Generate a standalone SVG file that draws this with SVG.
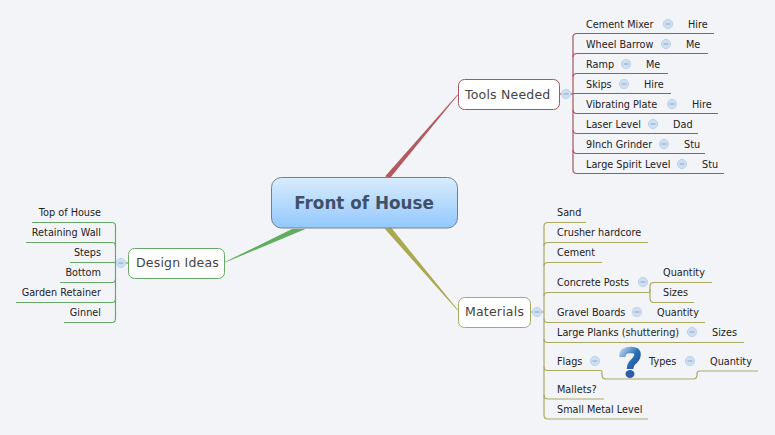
<svg xmlns="http://www.w3.org/2000/svg" width="775" height="435" viewBox="0 0 775 435">
<style>
text{font-family:"DejaVu Sans","Liberation Sans",sans-serif;fill:#222;font-size:9.7px}
.e{text-anchor:end}
.m{font-size:12.5px;fill:#444;letter-spacing:.2px}
.r,.o,.g{fill:none;stroke-width:1.2}
.r{stroke:#a8565c}.o{stroke:#a9a960}.g{stroke:#68a868}
.box{fill:#fff;stroke-width:1}
.c{fill:#cfdff2;stroke:#bdd2ea;stroke-width:1}
.d{stroke:#8aa6c8;stroke-width:1}
</style>
<defs>
<linearGradient id="cg" x1="0" y1="0" x2="0" y2="1"><stop offset="0" stop-color="#d9ecfd"/><stop offset="1" stop-color="#93c8fc"/></linearGradient>
<linearGradient id="qg" x1="0" y1="0" x2="1" y2="1"><stop offset="0" stop-color="#a5c6e6"/><stop offset=".5" stop-color="#2f72b8"/><stop offset="1" stop-color="#24509c"/></linearGradient>
<g id="mi"><circle class="c" r="4.6"/><path class="d" d="M-2.500 0H2.500"/></g>
</defs>
<rect width="775" height="435" fill="#f3f4f8"/>
<g id="connectors">
<path d="M385 176.500L390.500 177.500L458 95L457.500 94.500Z" fill="#b25a5f"/>
<path d="M292 229L305.500 229L225 262.500L224.800 262Z" fill="#5faf5f"/>
<path d="M384.500 228.500L391.500 228L458 310L457.500 310.500Z" fill="#a9a950"/>
<path class="r" d="M560 94H573"/>
<path class="r" d="M573 94V37Q573 33.500 577 33.500H714"/>
<path class="r" d="M573 57Q573 53.500 577 53.500H708"/>
<path class="r" d="M573 77Q573 73.500 577 73.500H668"/>
<path class="r" d="M573 93.500H671"/>
<path class="r" d="M573 94V170Q573 173.500 577 173.500H724"/>
<path class="r" d="M573 110Q573 113.500 577 113.500H718"/>
<path class="r" d="M573 130Q573 133.500 577 133.500H698"/>
<path class="r" d="M573 150Q573 153.500 577 153.500H705"/>
<path class="o" d="M530.500 312H544"/>
<path class="o" d="M544 312V226Q544 222.500 548 222.500H586"/>
<path class="o" d="M544 246Q544 242.500 548 242.500H648"/>
<path class="o" d="M544 266Q544 262.500 548 262.500H602"/>
<path class="o" d="M544 296Q544 292.500 548 292.500H649"/>
<path class="o" d="M544 312V415Q544 419 548 419H648"/>
<path class="o" d="M544 319Q544 322.500 548 322.500H705"/>
<path class="o" d="M544 339Q544 342.500 548 342.500H744"/>
<path class="o" d="M544 367Q544 370.500 548 370.500H601Q602 370.500 602 373V375Q602 379 606 379H693Q697 379 697 375V374Q697 371 700 371H758"/>
<path class="o" d="M544 395Q544 399 548 399H604"/>
<path class="o" d="M649 292.500Q650 292.500 650 289V286Q650 282.500 654 282.500H712"/>
<path class="o" d="M650 289V298Q650 302.500 654 302.500H694"/>
<path class="g" d="M128.500 263H115.500"/>
<path class="g" d="M115.500 263V226Q115.500 222.500 112 222.500H32"/>
<path class="g" d="M115.500 246Q115.500 242.500 112 242.500H26"/>
<path class="g" d="M115.500 262.500H70"/>
<path class="g" d="M115.500 279Q115.500 282.500 112 282.500H60"/>
<path class="g" d="M115.500 263V318Q115.500 322.500 112 322.500H64"/>
<path class="g" d="M115.500 299Q115.500 302.500 112 302.500H16"/>
</g>
<g id="root"><rect x="271.500" y="177.500" width="186" height="50.500" rx="10" fill="url(#cg)" stroke="#75808c"/><text x="364" y="208.500" text-anchor="middle" style="font-size:16.800px;font-weight:bold;fill:#3f5168">Front of House</text></g>
<g id="tools"><rect class="box" x="458.500" y="79.500" width="101" height="30" rx="6" stroke="#a8565c"/><text class="m" x="465" y="99">Tools Needed</text><use href="#mi" x="566" y="94"/></g>
<g id="materials"><rect class="box" x="458.500" y="297.500" width="72" height="30" rx="6" stroke="#a9a960"/><text class="m" x="465" y="316">Materials</text><use href="#mi" x="537" y="312"/></g>
<g id="design"><rect class="box" x="128.500" y="248.500" width="96" height="30" rx="6" stroke="#68a868"/><text class="m" x="136" y="267">Design Ideas</text><use href="#mi" x="121" y="263"/></g>
<g id="tool-items">
<g id="t1"><text x="586" y="28">Cement Mixer</text><use href="#mi" x="668" y="24"/><text x="688" y="28">Hire</text></g>
<g id="t2"><text x="586" y="48">Wheel Barrow</text><use href="#mi" x="666" y="44"/><text x="686" y="48">Me</text></g>
<g id="t3"><text x="586" y="68">Ramp</text><use href="#mi" x="626" y="64"/><text x="646" y="68">Me</text></g>
<g id="t4"><text x="586" y="88">Skips</text><use href="#mi" x="624" y="84"/><text x="644" y="88">Hire</text></g>
<g id="t5"><text x="586" y="108">Vibrating Plate</text><use href="#mi" x="672" y="104"/><text x="692" y="108">Hire</text></g>
<g id="t6"><text x="586" y="128">Laser Level</text><use href="#mi" x="653" y="124"/><text x="673" y="128">Dad</text></g>
<g id="t7"><text x="586" y="148">9Inch Grinder</text><use href="#mi" x="664" y="144"/><text x="684" y="148">Stu</text></g>
<g id="t8"><text x="586" y="168">Large Spirit Level</text><use href="#mi" x="682" y="164"/><text x="702" y="168">Stu</text></g>
</g>
<g id="material-items">
<g id="m1"><text x="557" y="216">Sand</text></g>
<g id="m2"><text x="557" y="236">Crusher hardcore</text></g>
<g id="m3"><text x="557" y="256">Cement</text></g>
<g id="m4"><text x="557" y="286">Concrete Posts</text><use href="#mi" x="643" y="282"/><text x="663" y="276">Quantity</text><text x="663" y="296">Sizes</text></g>
<g id="m5"><text x="557" y="316">Gravel Boards</text><use href="#mi" x="637" y="312"/><text x="657" y="316">Quantity</text></g>
<g id="m6"><text x="557" y="336">Large Planks (shuttering)</text><use href="#mi" x="692" y="332"/><text x="712" y="336">Sizes</text></g>
<g id="m7"><text x="557" y="365">Flags</text><use href="#mi" x="595" y="361"/>
<path d="M622.500 357Q622 350 630 350Q638 349.500 637.500 355Q637 359 633 362Q630 365 630 369" fill="none" stroke="url(#qg)" stroke-width="6.500"/>
<ellipse cx="630" cy="374" rx="4.500" ry="4" fill="#2f5ca8"/>
<text x="649" y="365">Types</text><use href="#mi" x="690" y="361"/><text x="710" y="365">Quantity</text></g>
<g id="m8"><text x="557" y="393">Mallets?</text></g>
<g id="m9"><text x="557" y="413">Small Metal Level</text></g>
</g>
<g id="design-items">
<text class="e" x="101" y="216">Top of House</text>
<text class="e" x="101" y="236">Retaining Wall</text>
<text class="e" x="101" y="256">Steps</text>
<text class="e" x="101" y="276">Bottom</text>
<text class="e" x="101" y="296">Garden Retainer</text>
<text class="e" x="101" y="316">Ginnel</text>
</g>
</svg>
